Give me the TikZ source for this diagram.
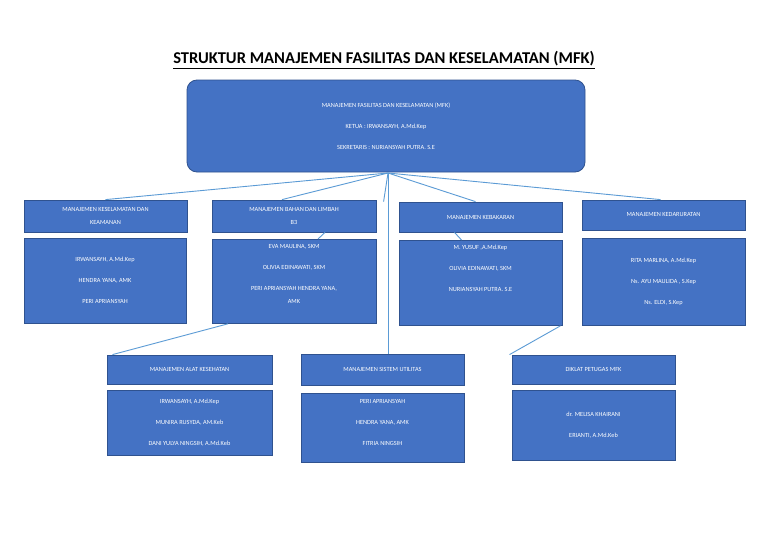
\documentclass[tikz,border=0pt]{standalone}
\usepackage{fontspec}
\setmainfont{Carlito}
\begin{document}
\begin{tikzpicture}[x=1pt,y=-1pt,
 box/.style={draw=boxline,fill=boxfill,line width=0.8pt,text=white,align=center,inner sep=1pt,font=\fontsize{6.3}{13}\selectfont},
 link/.style={draw=linkc,line width=0.9pt}]
\definecolor{boxfill}{HTML}{4472C4}
\definecolor{boxline}{HTML}{2F528F}
\definecolor{linkc}{HTML}{5B9BD5}
\useasboundingbox[fill=white] (0,0) rectangle (768,543);
\node[font=\bfseries\fontsize{16.5}{18}\selectfont] (title) at (384,60) {\underline{STRUKTUR MANAJEMEN FASILITAS DAN KESELAMATAN (MFK)}};
% helper: box from corners
\newcommand{\bx}[6][]{\node[box,minimum width=#4-#2,minimum height=#5-#3,#1] (#6) at ({(#2+#4)/2},{(#3+#5)/2})}
\bx[rounded corners=10pt]{187}{80}{585}{172}{top}{MANAJEMEN FASILITAS DAN KESELAMATAN (MFK)\\[8pt]KETUA : IRWANSAYH, A.Md.Kep\\[8pt]SEKRETARIS : NURIANSYAH PUTRA. S.E};
\coordinate (hub) at (388,173);
% row 2 headers
\bx{24}{200}{187}{232}{h1}{MANAJEMEN KESELAMATAN DAN\\KEAMANAN};
\bx{212}{200}{376}{232}{h2}{MANAJEMEN BAHAN DAN LIMBAH\\B3};
\bx{399}{202}{562}{232}{h3}{MANAJEMEN KEBAKARAN};
\bx{582}{200}{745}{230}{h4}{MANAJEMEN KEDARURATAN};
% row 2 details
\bx{24}{238}{186}{323}{d1}{IRWANSAYH, A.Md.Kep\\[8pt]HENDRA YANA, AMK\\[8pt]PERI APRIANSYAH};
\node[box,minimum width=164,minimum height=84,anchor=north,text depth=0pt] (d2) at (294,239) {};
\node[text=white,align=center,anchor=north,font=\fontsize{6.3}{13}\selectfont] (d2t) at (294,241) {EVA MAULINA, SKM\\[8pt]OLIVIA EDINAWATI, SKM\\[8pt]PERI APRIANSYAH HENDRA YANA,\\AMK};
\node[box,minimum width=163,minimum height=85,anchor=north] (d3) at (480.5,240) {};
\node[text=white,align=center,anchor=north,font=\fontsize{6.3}{13}\selectfont] (d3t) at (480.5,242) {M. YUSUF ,A.Md.Kep\\[8pt]OLIVIA EDINAWATI, SKM\\[8pt]NURIANSYAH PUTRA. S.E};
\bx{582}{238}{745}{325}{d4}{RITA MARLINA, A.Md.Kep\\[8pt]Ns. AYU MAULIDA , S.Kep\\[8pt]Ns. ELDI, S.Kep};
% row 3
\bx{107}{355}{272}{384}{h5}{MANAJEMEN ALAT KESEHATAN};
\bx{301}{354}{464}{385}{h6}{MANAJEMEN SISTEM UTILITAS};
\bx{512}{355}{675}{384}{h7}{DIKLAT PETUGAS MFK};
\bx{107}{390}{272}{455}{d5}{IRWANSAYH, A.Md.Kep\\[8pt]MUNIRA RUSYDA, AM.Keb\\[8pt]DANI YULYA NINGSIH, A.Md.Keb};
\node[box,minimum width=163,minimum height=69,anchor=north] (d6) at (382.5,393) {};
\node[text=white,align=center,anchor=north,font=\fontsize{6.3}{13}\selectfont] (d6t) at (382.5,396) {PERI APRIANSYAH\\[8pt]HENDRA YANA, AMK\\[8pt]FITRIA NINGSIH};
\bx{512}{390}{675}{460}{d7}{dr. MELISA KHAIRANI\\[8pt]ERIANTI, A.Md.Keb};
% connectors
\begin{scope}[on background layer/.style={}]
\end{scope}
\draw[link] (hub) -- (h1.north);
\draw[link] (hub) -- ([xshift=-12pt]h2.north);
\draw[link] (hub) -- ([xshift=-5pt]h3.north);
\draw[link] (hub) -- ([xshift=-3pt]h4.north);
\draw[link] (hub) -- ([xshift=-15pt]h3.north west);
\draw[link] (hub) -- (hub |- h6.north);
\draw[link] ([xshift=31pt]h2.south) -- ([xshift=24pt]d2.north);
\draw[link] ([xshift=-26pt]h3.south) -- ([xshift=-19pt]d3.north);
\draw[link] ([xshift=-66pt]d2.south) -- ([xshift=-77pt]h5.north);
\draw[link] ([xshift=80pt]d3.south) -- ([xshift=-84pt]h7.north);
\end{tikzpicture}
\end{document}
